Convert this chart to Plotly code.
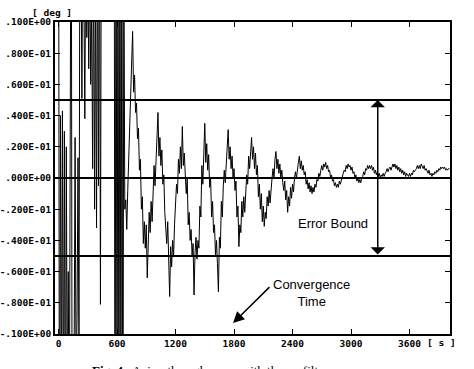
import plotly.graph_objects as go

# Sampling interval of the recorded signal [s]
SAMPLE_STEP_S = 10

# Attitude error, in milli-degrees (one value per 10 s)
ERROR_MDEG = [
    250, -250, 40, -150, 43, -180, 30, -200, 20, -150,
    -60, -200, 25, 250, -200, -150, -120, 26, -130, -90,
    13, -110, 200, 150, 51, 180, 120, 38, 160, 90,
    140, 70, 150, 60, 110, 6, 150, -20, 130, -32,
    160, -5, 200, -81, 200, 200, 250, 220, 260, 230,
    240, 250, 220, 240, 260, 230, 220, 250, -250, 250,
    -200, 200, -220, 230, -200, 200, -250, 150, -20, -14,
    -33, -8, 13, 30, 50, 62, 94, 55, 66, 42,
    48, 25, 32, 5, 12, -20, -12, -42, -28, -45,
    -30, -64, -40, -22, -35, -15, -28, -2, 8, -5,
    15, 28, 42, 14, 26, 8, 18, -4, 2, -22,
    -30, -42, -28, -52, -76, -44, -57, -40, -50, -30,
    -20, -4, -10, 12, 3, 20, 6, 33, 8, 16,
    2, -10, 0, -30, -22, -40, -33, -50, -42, -75,
    -48, -38, -52, -40, -45, -18, -25, 8, -4, 18,
    35, 10, 22, 5, 15, -6, 0, -25, -15, -35,
    -30, -50, -40, -55, -73, -38, -45, -15, -25, -5,
    5, -3, 12, 20, 31, 12, 20, 6, 14, 0,
    6, -8, -2, -25, -18, -44, -30, -35, -15, -25,
    -12, -22, -8, 2, -4, 14, 6, 20, 26, 12,
    20, 6, 16, 2, 8, -12, -4, -20, -10, -28,
    -18, -31, -22, -26, -12, -18, -8, -16, -4, 0,
    6, 0, 12, 17, 6, 12, 3, 9, 0, 5,
    -3, -8, -2, -14, -8, -22, -12, -18, -6, -13,
    -4, -9, 0, 4, 0, 7, 10, 14, 6, 11,
    5, 8, 2, 4, -4, -1, -7, -3, -9, -5,
    -10, -6, -9, -4, -6, -1, -2, 3, 1, 5,
    8, 5, 9, 7, 10, 6, 8, 4, 5, 0,
    2, -2, -1, -5, -3, -6, -4, -6, -2, -4,
    -1, 1, 3, 5, 4, 8, 6, 9, 7, 8,
    5, 7, 3, 4, 0, 2, -2, 0, -3, -1,
    -3, 0, 1, 4, 2, 6, 5, 8, 6, 8,
    6, 8, 5, 7, 3, 5, 2, 4, 1, 3,
    0, 2, 1, 3, 1, 3, 4, 6, 4, 6,
    7, 5, 8, 9, 7, 9, 6, 8, 5, 7,
    4, 6, 3, 5, 2, 4, 1, 3, 2, 1,
    3, 1, 3, 2, 5, 4, 5, 6, 8, 6,
    8, 6, 9, 7, 6, 8, 5, 6, 4, 3,
    5, 2, 3, 1, 3, 2, 4, 3, 5, 4,
    6, 5, 7, 6, 7, 6, 7, 5, 6, 5,
    6, 6,
]

Y_TICKS = [0.1, 0.08, 0.06, 0.04, 0.02, 0.0, -0.02, -0.04, -0.06, -0.08, -0.1]
Y_TICK_LABELS = [".100E+00", ".800E-01", ".600E-01", ".400E-01", ".200E-01",
                 ".000E+00", "-.200E-01", "-.400E-01", "-.600E-01", "-.800E-01",
                 "-.100E+00"]
X_TICKS = [0, 600, 1200, 1800, 2400, 3000, 3600]
X_TICK_LABELS = ["0", "600", "1200", "1800", "2400", "3000", "3600"]

ERROR_BOUND = 0.05
BOUND_ARROW_T = 3274
CONV_TIP = (1790, -0.093)
CONV_TAIL = (2179, -0.069)
CONV_TEXT_POS = (2590, -0.074)
BOUND_TEXT_POS = (2815, -0.029)

time_s = [i * SAMPLE_STEP_S for i in range(len(ERROR_MDEG))]
error_deg = [v / 1000.0 for v in ERROR_MDEG]

MONO = dict(family="DejaVu Sans Mono", size=9.5, color="black", weight="bold")
SANS = dict(family="Liberation Sans", size=13, color="black")

fig = go.Figure()
fig.add_trace(go.Scatter(x=time_s, y=error_deg, mode="lines",
                         line=dict(color="black", width=1), showlegend=False))

for yv in (ERROR_BOUND, 0.0, -ERROR_BOUND):
    fig.add_shape(type="line", xref="paper", x0=0, x1=1, yref="y", y0=yv, y1=yv,
                  line=dict(color="black", width=2), layer="above")

# double-headed error bound arrow
fig.add_annotation(x=BOUND_ARROW_T, y=ERROR_BOUND, ax=BOUND_ARROW_T, ay=-ERROR_BOUND,
                   xref="x", yref="y", axref="x", ayref="y", text="",
                   showarrow=True, arrowhead=1, startarrowhead=1, arrowside="end+start",
                   arrowsize=1.6, startarrowsize=1.6, arrowwidth=1.5, arrowcolor="black",
                   standoff=0, startstandoff=0)
fig.add_annotation(x=BOUND_TEXT_POS[0], y=BOUND_TEXT_POS[1], xref="x", yref="y",
                   text="Error Bound", showarrow=False, font=SANS)

# convergence arrow
fig.add_annotation(x=CONV_TIP[0], y=CONV_TIP[1], ax=CONV_TAIL[0], ay=CONV_TAIL[1],
                   xref="x", yref="y", axref="x", ayref="y", text="",
                   showarrow=True, arrowhead=2, arrowsize=1.5, arrowwidth=1.5,
                   arrowcolor="black", standoff=0)
fig.add_annotation(x=CONV_TEXT_POS[0], y=CONV_TEXT_POS[1], xref="x", yref="y",
                   text="Convergence<br>Time", showarrow=False, font=SANS, align="center")

# unit labels
fig.add_annotation(x=-0.063, y=1.055, xref="paper", yref="paper", text="[ deg ]",
                   showarrow=False, font=MONO)
fig.add_annotation(x=0.937, y=-0.027, xref="paper", yref="paper", text="[ s ]",
                   showarrow=False, font=MONO, xanchor="left", yanchor="middle")

# caption (cut off by the page bottom, as in the scanned figure)
fig.add_annotation(x=0.0886, y=-0.085, xref="paper", yref="paper", xanchor="left",
                   yanchor="top", text="<b>Fig. 4</b>   Azimuth angle error with the prefilter",
                   showarrow=False, font=dict(family="Liberation Serif", size=13, color="black"))

fig.update_xaxes(range=[-36, 4015], tickvals=X_TICKS, ticktext=X_TICK_LABELS,
                 ticks="inside", ticklen=5, tickwidth=1, tickcolor="black",
                 showline=True, mirror="ticks", linecolor="black", linewidth=2,
                 showgrid=False, zeroline=False, tickfont=MONO, automargin=False)
fig.update_yaxes(range=[-0.1, 0.1], tickvals=Y_TICKS, ticktext=Y_TICK_LABELS,
                 ticks="inside", ticklen=5, tickwidth=1, tickcolor="black",
                 showline=True, mirror="ticks", linecolor="black", linewidth=2,
                 showgrid=False, zeroline=False, tickfont=MONO, automargin=False)

fig.update_layout(width=474, height=369, margin=dict(l=55, r=24, t=22, b=35),
                  paper_bgcolor="white", plot_bgcolor="white", showlegend=False)

fig.write_html("out.html", config={"displayModeBar": False},
               post_script="document.body.style.margin='0';document.body.style.overflow='hidden';")
